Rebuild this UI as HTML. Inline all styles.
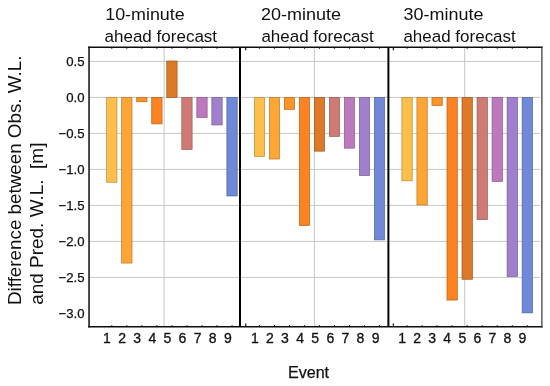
<!DOCTYPE html>
<html lang="en"><head><meta charset="utf-8"><title>Forecast difference chart</title>
<style>html,body{margin:0;padding:0;background:#fff}svg{display:block}text{font-family:"Liberation Sans",Arial,Helvetica,sans-serif;fill:#111}</style>
</head><body>
<svg width="550" height="386" viewBox="0 0 550 386">
<rect x="0" y="0" width="550" height="386" fill="#ffffff"/>
<g stroke="#c6c6c6" stroke-width="1" fill="none">
<line x1="89.5" y1="61.40" x2="540.3" y2="61.40"/>
<line x1="89.5" y1="97.40" x2="540.3" y2="97.40"/>
<line x1="89.5" y1="133.40" x2="540.3" y2="133.40"/>
<line x1="89.5" y1="169.40" x2="540.3" y2="169.40"/>
<line x1="89.5" y1="205.40" x2="540.3" y2="205.40"/>
<line x1="89.5" y1="241.40" x2="540.3" y2="241.40"/>
<line x1="89.5" y1="277.40" x2="540.3" y2="277.40"/>
<line x1="164.10" y1="47.5" x2="164.10" y2="326.5"/>
<line x1="314.40" y1="47.5" x2="314.40" y2="326.5"/>
<line x1="464.70" y1="47.5" x2="464.70" y2="326.5"/>
</g>
<g stroke-width="0.7">
<rect x="106.65" y="97.40" width="10.30" height="84.87" fill="#FDBE4B" stroke="#B98A36"/>
<rect x="121.68" y="97.40" width="10.30" height="165.65" fill="#FDA535" stroke="#B97826"/>
<rect x="136.71" y="97.40" width="10.30" height="4.37" fill="#FD9226" stroke="#B96A1B"/>
<rect x="151.74" y="97.40" width="10.30" height="26.47" fill="#FD8222" stroke="#B95E18"/>
<rect x="166.77" y="61.04" width="10.30" height="36.41" fill="#DE7928" stroke="#9E561C"/>
<rect x="181.80" y="97.40" width="10.30" height="52.03" fill="#D07A76" stroke="#985955"/>
<rect x="196.83" y="97.40" width="10.30" height="20.14" fill="#BE78BE" stroke="#8A578A"/>
<rect x="211.86" y="97.40" width="10.30" height="27.55" fill="#A080CC" stroke="#745D95"/>
<rect x="226.89" y="97.40" width="10.30" height="98.55" fill="#6F88D8" stroke="#50629C"/>
</g>
<g stroke-width="0.7">
<rect x="254.40" y="97.40" width="10.10" height="58.95" fill="#FDBE4B" stroke="#B98A36"/>
<rect x="269.40" y="97.40" width="10.10" height="61.61" fill="#FDA535" stroke="#B97826"/>
<rect x="284.40" y="97.40" width="10.10" height="12.00" fill="#FD9226" stroke="#B96A1B"/>
<rect x="299.40" y="97.40" width="10.10" height="128.07" fill="#FD8222" stroke="#B95E18"/>
<rect x="314.40" y="97.40" width="10.10" height="53.76" fill="#DE7928" stroke="#9E561C"/>
<rect x="329.40" y="97.40" width="10.10" height="39.00" fill="#D07A76" stroke="#985955"/>
<rect x="344.40" y="97.40" width="10.10" height="50.74" fill="#BE78BE" stroke="#8A578A"/>
<rect x="359.40" y="97.40" width="10.10" height="78.24" fill="#A080CC" stroke="#745D95"/>
<rect x="374.40" y="97.40" width="10.10" height="142.47" fill="#6F88D8" stroke="#50629C"/>
</g>
<g stroke-width="0.7">
<rect x="401.90" y="97.40" width="10.30" height="83.43" fill="#FDBE4B" stroke="#B98A36"/>
<rect x="416.93" y="97.40" width="10.30" height="107.55" fill="#FDA535" stroke="#B97826"/>
<rect x="431.96" y="97.40" width="10.30" height="8.19" fill="#FD9226" stroke="#B96A1B"/>
<rect x="446.99" y="97.40" width="10.30" height="202.66" fill="#FD8222" stroke="#B95E18"/>
<rect x="462.02" y="97.40" width="10.30" height="181.85" fill="#DE7928" stroke="#9E561C"/>
<rect x="477.05" y="97.40" width="10.30" height="122.23" fill="#D07A76" stroke="#985955"/>
<rect x="492.08" y="97.40" width="10.30" height="84.00" fill="#BE78BE" stroke="#8A578A"/>
<rect x="507.11" y="97.40" width="10.30" height="179.04" fill="#A080CC" stroke="#745D95"/>
<rect x="522.14" y="97.40" width="10.30" height="215.47" fill="#6F88D8" stroke="#50629C"/>
</g>
<g stroke="#222" stroke-width="1.0" fill="none">
<line x1="111.80" y1="47.5" x2="111.80" y2="48.9"/>
<line x1="111.80" y1="325.1" x2="111.80" y2="326.5"/>
<line x1="126.83" y1="47.5" x2="126.83" y2="48.9"/>
<line x1="126.83" y1="325.1" x2="126.83" y2="326.5"/>
<line x1="141.86" y1="47.5" x2="141.86" y2="48.9"/>
<line x1="141.86" y1="325.1" x2="141.86" y2="326.5"/>
<line x1="156.89" y1="47.5" x2="156.89" y2="48.9"/>
<line x1="156.89" y1="325.1" x2="156.89" y2="326.5"/>
<line x1="171.92" y1="47.5" x2="171.92" y2="48.9"/>
<line x1="171.92" y1="325.1" x2="171.92" y2="326.5"/>
<line x1="186.95" y1="47.5" x2="186.95" y2="48.9"/>
<line x1="186.95" y1="325.1" x2="186.95" y2="326.5"/>
<line x1="201.98" y1="47.5" x2="201.98" y2="48.9"/>
<line x1="201.98" y1="325.1" x2="201.98" y2="326.5"/>
<line x1="217.01" y1="47.5" x2="217.01" y2="48.9"/>
<line x1="217.01" y1="325.1" x2="217.01" y2="326.5"/>
<line x1="232.04" y1="47.5" x2="232.04" y2="48.9"/>
<line x1="232.04" y1="325.1" x2="232.04" y2="326.5"/>
<line x1="259.45" y1="47.5" x2="259.45" y2="48.9"/>
<line x1="259.45" y1="325.1" x2="259.45" y2="326.5"/>
<line x1="274.45" y1="47.5" x2="274.45" y2="48.9"/>
<line x1="274.45" y1="325.1" x2="274.45" y2="326.5"/>
<line x1="289.45" y1="47.5" x2="289.45" y2="48.9"/>
<line x1="289.45" y1="325.1" x2="289.45" y2="326.5"/>
<line x1="304.45" y1="47.5" x2="304.45" y2="48.9"/>
<line x1="304.45" y1="325.1" x2="304.45" y2="326.5"/>
<line x1="319.45" y1="47.5" x2="319.45" y2="48.9"/>
<line x1="319.45" y1="325.1" x2="319.45" y2="326.5"/>
<line x1="334.45" y1="47.5" x2="334.45" y2="48.9"/>
<line x1="334.45" y1="325.1" x2="334.45" y2="326.5"/>
<line x1="349.45" y1="47.5" x2="349.45" y2="48.9"/>
<line x1="349.45" y1="325.1" x2="349.45" y2="326.5"/>
<line x1="364.45" y1="47.5" x2="364.45" y2="48.9"/>
<line x1="364.45" y1="325.1" x2="364.45" y2="326.5"/>
<line x1="379.45" y1="47.5" x2="379.45" y2="48.9"/>
<line x1="379.45" y1="325.1" x2="379.45" y2="326.5"/>
<line x1="407.05" y1="47.5" x2="407.05" y2="48.9"/>
<line x1="407.05" y1="325.1" x2="407.05" y2="326.5"/>
<line x1="422.08" y1="47.5" x2="422.08" y2="48.9"/>
<line x1="422.08" y1="325.1" x2="422.08" y2="326.5"/>
<line x1="437.11" y1="47.5" x2="437.11" y2="48.9"/>
<line x1="437.11" y1="325.1" x2="437.11" y2="326.5"/>
<line x1="452.14" y1="47.5" x2="452.14" y2="48.9"/>
<line x1="452.14" y1="325.1" x2="452.14" y2="326.5"/>
<line x1="467.17" y1="47.5" x2="467.17" y2="48.9"/>
<line x1="467.17" y1="325.1" x2="467.17" y2="326.5"/>
<line x1="482.20" y1="47.5" x2="482.20" y2="48.9"/>
<line x1="482.20" y1="325.1" x2="482.20" y2="326.5"/>
<line x1="497.23" y1="47.5" x2="497.23" y2="48.9"/>
<line x1="497.23" y1="325.1" x2="497.23" y2="326.5"/>
<line x1="512.26" y1="47.5" x2="512.26" y2="48.9"/>
<line x1="512.26" y1="325.1" x2="512.26" y2="326.5"/>
<line x1="527.29" y1="47.5" x2="527.29" y2="48.9"/>
<line x1="527.29" y1="325.1" x2="527.29" y2="326.5"/>
<line x1="245.7" y1="47.5" x2="245.7" y2="50.3" stroke-width="1.3"/>
<line x1="245.7" y1="323.4" x2="245.7" y2="326.5" stroke-width="1.3"/>
<line x1="393.4" y1="47.5" x2="393.4" y2="50.3" stroke-width="1.3"/>
<line x1="393.4" y1="323.4" x2="393.4" y2="326.5" stroke-width="1.3"/>
</g>
<g stroke="#0d0d0d" fill="none">
<line x1="88.3" y1="47.2" x2="542.5" y2="47.2" stroke-width="1.4"/>
<line x1="88.3" y1="326.8" x2="542.5" y2="326.8" stroke-width="1.4"/>
<line x1="89.05" y1="46.5" x2="89.05" y2="327.5" stroke-width="1.5"/>
<line x1="541.9" y1="46.5" x2="541.9" y2="327.5" stroke-width="1.2" stroke="#333"/>
<line x1="240.0" y1="47.5" x2="240.0" y2="326.8" stroke-width="2" stroke="#000"/>
<line x1="388.4" y1="47.5" x2="388.4" y2="326.8" stroke-width="2" stroke="#000"/>
</g>
<g font-size="13.2" text-anchor="end" stroke="#111" stroke-width="0.25">
<text x="84.6" y="66.00">0.5</text>
<text x="84.6" y="102.00">0.0</text>
<text x="84.6" y="138.00">−0.5</text>
<text x="84.6" y="174.00">−1.0</text>
<text x="84.6" y="210.00">−1.5</text>
<text x="84.6" y="246.00">−2.0</text>
<text x="84.6" y="282.00">−2.5</text>
<text x="84.6" y="318.00">−3.0</text>
</g>
<g font-size="18.7">
<text transform="translate(21.1 305) rotate(-90)" textLength="249.4" lengthAdjust="spacingAndGlyphs">Difference between Obs. W.L.</text>
<text transform="translate(43.4 304.8) rotate(-90)" textLength="162.2" lengthAdjust="spacingAndGlyphs" xml:space="preserve">and Pred. W.L.  [m]</text>
</g>
<g font-size="16.9">
<text x="105.20" y="19.6" textLength="79.50" lengthAdjust="spacingAndGlyphs">10-minute</text>
<text x="104.50" y="41.5" textLength="112.60" lengthAdjust="spacingAndGlyphs">ahead forecast</text>
<text x="261.00" y="19.6" textLength="80.00" lengthAdjust="spacingAndGlyphs">20-minute</text>
<text x="261.40" y="41.5" textLength="112.40" lengthAdjust="spacingAndGlyphs">ahead forecast</text>
<text x="403.50" y="19.6" textLength="79.90" lengthAdjust="spacingAndGlyphs">30-minute</text>
<text x="403.40" y="41.5" textLength="112.40" lengthAdjust="spacingAndGlyphs">ahead forecast</text>
</g>
<g font-size="14" text-anchor="middle" stroke="#111" stroke-width="0.3">
<text x="107.00" y="342.8">1</text>
<text x="122.10" y="342.8">2</text>
<text x="137.20" y="342.8">3</text>
<text x="152.30" y="342.8">4</text>
<text x="167.40" y="342.8">5</text>
<text x="182.50" y="342.8">6</text>
<text x="197.60" y="342.8">7</text>
<text x="212.70" y="342.8">8</text>
<text x="227.80" y="342.8">9</text>
<text x="254.80" y="342.8">1</text>
<text x="269.90" y="342.8">2</text>
<text x="285.00" y="342.8">3</text>
<text x="300.10" y="342.8">4</text>
<text x="315.20" y="342.8">5</text>
<text x="330.30" y="342.8">6</text>
<text x="345.40" y="342.8">7</text>
<text x="360.50" y="342.8">8</text>
<text x="375.60" y="342.8">9</text>
<text x="402.10" y="342.8">1</text>
<text x="417.15" y="342.8">2</text>
<text x="432.20" y="342.8">3</text>
<text x="447.25" y="342.8">4</text>
<text x="462.30" y="342.8">5</text>
<text x="477.35" y="342.8">6</text>
<text x="492.40" y="342.8">7</text>
<text x="507.45" y="342.8">8</text>
<text x="522.50" y="342.8">9</text>
</g>
<text x="287.9" y="377.6" font-size="16.5" textLength="41.2" lengthAdjust="spacingAndGlyphs" stroke="#111" stroke-width="0.25">Event</text>
</svg>
</body></html>
